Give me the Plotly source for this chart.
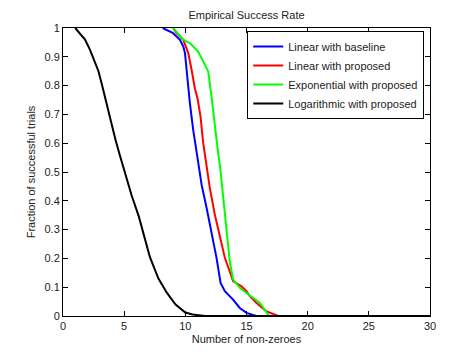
import plotly.graph_objects as go

title_text = "Empirical Success Rate"
x_title = "Number of non-zeroes"
y_title = "Fraction of successful trials"

names = ["Linear with baseline", "Linear with proposed",
         "Exponential with proposed", "Logarithmic with proposed"]
colors = ["#0000FF", "#FF0000", "#00FF00", "#000000"]

blue_x = [8.15, 9.0, 9.56, 9.83, 9.97, 10.1, 10.37, 10.64, 10.92, 11.08, 11.33, 11.74, 12.14, 12.55, 12.88, 13.23, 13.9, 14.45, 15.0, 15.8]
blue_y = [1.0, 0.982, 0.959, 0.936, 0.913, 0.855, 0.74, 0.647, 0.566, 0.515, 0.456, 0.375, 0.294, 0.202, 0.115, 0.086, 0.057, 0.028, 0.011, 0.0]

red_x = [9.0, 9.29, 9.83, 10.24, 10.51, 10.78, 11.0, 11.24, 11.46, 11.74, 12.0, 12.41, 12.82, 13.23, 13.63, 13.9, 14.59, 15.0, 15.27, 15.8, 16.6, 17.4, 17.6]
red_y = [1.0, 0.982, 0.959, 0.913, 0.855, 0.79, 0.755, 0.693, 0.601, 0.515, 0.445, 0.352, 0.271, 0.202, 0.155, 0.121, 0.103, 0.086, 0.069, 0.046, 0.017, 0.005, 0.0]

green_x = [9.01, 9.83, 10.37, 11.05, 11.46, 11.87, 12.14, 12.41, 12.68, 12.85, 13.09, 13.37, 13.63, 13.9, 14.45, 15.0, 16.08, 16.76, 16.9]
green_y = [1.0, 0.959, 0.948, 0.918, 0.884, 0.849, 0.762, 0.658, 0.566, 0.515, 0.41, 0.294, 0.19, 0.127, 0.098, 0.08, 0.046, 0.005, 0.0]

black_x = [1.0, 1.4, 1.8, 2.2, 2.5, 2.9, 3.2, 3.6, 3.9, 4.3, 4.7, 5.0, 5.6, 6.2, 6.6, 7.1, 7.8, 8.5, 9.2, 9.8, 10.0, 10.6, 11.6, 30.0]
black_y = [1.0, 0.98, 0.96, 0.925, 0.89, 0.85, 0.80, 0.73, 0.67, 0.61, 0.55, 0.505, 0.42, 0.345, 0.285, 0.205, 0.13, 0.08, 0.04, 0.017, 0.012, 0.005, 0.0, 0.0]

series_x = [blue_x, red_x, green_x, black_x]
series_y = [blue_y, red_y, green_y, black_y]

FONT = "Liberation Sans, Arial, sans-serif"
TXT = "#222222"

fig = go.Figure()
for nm, c, xs, ys in zip(names, colors, series_x, series_y):
    fig.add_trace(go.Scatter(x=xs, y=ys, mode="lines", name=nm,
                             line=dict(color=c, width=2)))

axis_common = dict(showline=True, linecolor="black", linewidth=1, mirror="ticks",
                   ticks="inside", ticklen=5, tickcolor="black", showgrid=False,
                   zeroline=False, tickfont=dict(family=FONT, size=11, color=TXT))

# page body has an 8px default margin, so the figure is sized/offset to compensate
W, H = 466, 347
fig.update_layout(
    width=W, height=H,
    margin=dict(l=55, r=44, t=20, b=39),
    paper_bgcolor="white", plot_bgcolor="white",
    font=dict(family=FONT, size=11, color=TXT),
    title=dict(text=title_text, x=0.5, xref="paper", xanchor="center",
               y=1 - 7 / H, yanchor="middle", font=dict(family=FONT, size=11, color=TXT)),
    xaxis=dict(range=[0, 30], dtick=5, tick0=0,
               title=dict(text=x_title, standoff=4, font=dict(family=FONT, size=11, color=TXT)),
               **axis_common),
    yaxis=dict(range=[0, 1], dtick=0.1, tick0=0,
               title=dict(text=y_title, standoff=6, font=dict(family=FONT, size=11, color=TXT)),
               **axis_common),
    legend=dict(x=0.502, y=0.99, xanchor="left", yanchor="top",
                bgcolor="white", bordercolor="black", borderwidth=1,
                font=dict(family=FONT, size=11, color=TXT),
                tracegroupgap=0, itemwidth=30),
    showlegend=True,
)

fig.write_html("out.html")
